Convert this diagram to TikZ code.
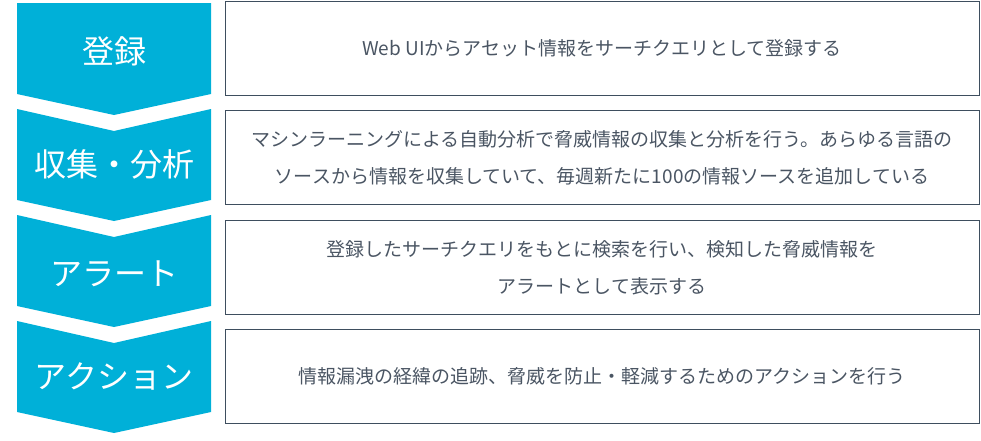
\documentclass[tikz,border=0pt]{standalone}
\usepackage{fontspec}
\setmainfont{Noto Sans CJK JP}
\definecolor{stageblue}{HTML}{00B0D8}
\definecolor{boxline}{HTML}{3E4E5E}
\definecolor{desctext}{HTML}{4A5563}
\begin{document}
\begin{tikzpicture}
[
    x=1pt, y=-1pt,
    stage/.style={fill=stageblue},
    stagelabel/.style={text=white, font=\fontsize{32}{38}\selectfont, inner sep=0pt},
    descbox/.style={shape=rectangle, draw=boxline, line width=1pt, minimum width=754pt, minimum height=94pt, text=desctext, font=\fontsize{19}{37}\selectfont, align=center},
]
\useasboundingbox (0,0) rectangle (981,440);

\fill[stage] (17,3) -- (211,3) -- (211,94) -- (114,115) -- (17,94) -- cycle;
\fill[stage] (17,109) -- (114,131) -- (211,109) -- (211,200) -- (114,221) -- (17,200) -- cycle;
\fill[stage] (17,215) -- (114,237) -- (211,215) -- (211,306) -- (114,327) -- (17,306) -- cycle;
\fill[stage] (17,321) -- (114,343) -- (211,321) -- (211,412) -- (114,433) -- (17,412) -- cycle;

\node[stagelabel](s1) at (114,51){登録};
\node[stagelabel](s2) at (114,164){収集・分析};
\node[stagelabel](s3) at (114,274){アラート};
\node[stagelabel](s4) at (114,376){アクション};

\node[descbox](d1) at (602,48){Web UIからアセット情報をサーチクエリとして登録する};
\node[descbox](d2) at (602,157.5){マシンラーニングによる自動分析で脅威情報の収集と分析を行う。あらゆる言語の\\ソースから情報を収集していて、毎週新たに100の情報ソースを追加している};
\node[descbox](d3) at (602,267.5){登録したサーチクエリをもとに検索を行い、検知した脅威情報を\\アラートとして表示する};
\node[descbox](d4) at (602,376.5){情報漏洩の経緯の追跡、脅威を防止・軽減するためのアクションを行う};

\end{tikzpicture}
\end{document}
